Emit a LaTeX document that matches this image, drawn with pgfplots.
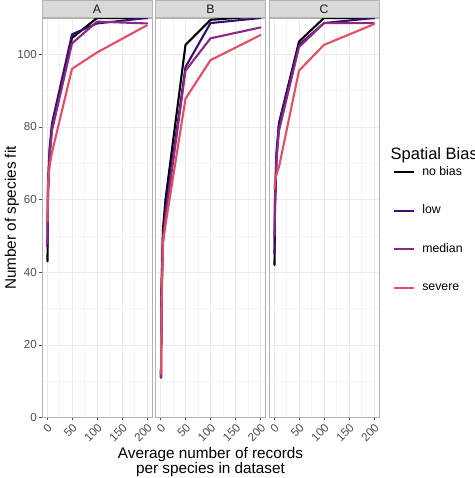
\documentclass[border=0pt]{standalone}
\usepackage{fontspec}
\setmainfont{Liberation Sans}
\usepackage{pgfplots}
\usepackage{pgfplotstable}
\pgfplotsset{compat=1.18}

% magma-like palette
\definecolor{nobias}{HTML}{000004}
\definecolor{lowc}{HTML}{3B0F70}
\definecolor{medc}{HTML}{8C2981}
\definecolor{sevc}{HTML}{E24E63}
\definecolor{gridmaj}{HTML}{EBEBEB}
\definecolor{gridmin}{HTML}{F4F4F4}
\definecolor{framec}{HTML}{B3B3B3}
\definecolor{stripfill}{HTML}{D9D9D9}
\definecolor{tickc}{HTML}{4D4D4D}

% x = average records per species; one column per bias level
\pgfplotstableread{
x   nobias low   median severe
1   43     47    48     54
2   62     64    62     64
5   72     74    72     69
10  80     81    79     73
50  104.5  105.5 103    96
100 110    108.5 109    100.5
200 110    110   108.5  108
}\panelA
\pgfplotstableread{
x   nobias low   median severe
1   11     11    11     12
2   35     34    33     30
5   52     50    49     48
10  60     57    55     53
50  102.6  96.5  95.5   87.8
100 109.5  108.6 104.4  98.4
200 110.5  110   107.4  105.3
}\panelB
\pgfplotstableread{
x   nobias low   median severe
1   42     45    50     63
2   58     60    60     65
5   72     73    71     67
10  81     81    79     69
50  103.5  102.6 102    95.5
100 110    108.6 108.6  102.6
200 110    110   108.6  108.3
}\panelC

\newcommand\tickfont{\fontsize{11.6}{11.6}\selectfont}
\newcommand\titlefont{\fontsize{15.3}{15}\selectfont}

\pgfplotsset{
  every axis title shift=0pt,
  curve/.style={line width=2.1pt, line join=round, line cap=round, mark=none},
  facet/.style={
    scale only axis, width=110pt, height=399.5pt,
    anchor=south west,
    xmin=-10, xmax=210, ymin=0, ymax=110,
    xtick={0,50,...,200}, minor xtick={25,75,125,175},
    ytick={0,20,...,100}, minor ytick={10,30,...,110},
    grid=both,
    major grid style={gridmaj, line width=0.7pt},
    minor grid style={gridmin, line width=0.35pt},
    axis line style={framec, line width=0.8pt},
    xtick pos=lower, ytick pos=left,
    tick align=outside, major tick length=3pt, minor tick length=0pt,
    major tick style={tickc, line width=0.6pt},
    /pgf/number format/assume math mode=true,
    xticklabel style={rotate=45, anchor=north east, font=\tickfont, text=tickc, inner sep=1.5pt},
    yticklabel style={font=\tickfont, text=tickc, inner sep=2pt},
    title style={at={(0.5,1)}, anchor=south, fill=stripfill, draw=framec,
      line width=0.8pt, minimum width=110pt, minimum height=17pt,
      inner sep=0pt, font=\fontsize{12.3}{12.3}\selectfont, text=black!90},
    clip=true,
  },
  noyaxis/.style={yticklabels={}, major y tick style={draw=none}},
}

\begin{document}
\begin{tikzpicture}
\begin{axis}[facet, at={(42pt,60.5pt)}, title={A}]
  \addplot[curve, nobias] table[x=x, y=nobias] {\panelA};
  \addplot[curve, lowc]   table[x=x, y=low]    {\panelA};
  \addplot[curve, medc]   table[x=x, y=median] {\panelA};
  \addplot[curve, sevc]   table[x=x, y=severe] {\panelA};
\end{axis}
\begin{axis}[facet, noyaxis, at={(155.5pt,60.5pt)}, title={B}]
  \addplot[curve, nobias] table[x=x, y=nobias] {\panelB};
  \addplot[curve, lowc]   table[x=x, y=low]    {\panelB};
  \addplot[curve, medc]   table[x=x, y=median] {\panelB};
  \addplot[curve, sevc]   table[x=x, y=severe] {\panelB};
\end{axis}
\begin{axis}[facet, noyaxis, at={(269pt,60.5pt)}, title={C},
    legend style={at={(1,1)}, anchor=north west, xshift=14pt, yshift=-148.5pt,
      draw=none, fill=none, inner sep=0pt, row sep=27.5pt, column sep=7pt,
      font=\fontsize{12.3}{12.3}\selectfont,
      nodes={inner sep=0pt, text height=8.5pt, text depth=2.5pt}},
    legend cell align=left,
    legend image code/.code={\draw[#1, line width=2.1pt, line cap=butt] (0pt,0pt) -- (20pt,0pt);}]
  \addplot[curve, nobias] table[x=x, y=nobias] {\panelC};
  \addlegendentry{no bias}
  \addplot[curve, lowc]   table[x=x, y=low]    {\panelC};
  \addlegendentry{low}
  \addplot[curve, medc]   table[x=x, y=median] {\panelC};
  \addlegendentry{median}
  \addplot[curve, sevc]   table[x=x, y=severe] {\panelC};
  \addlegendentry{severe}
\end{axis}
% axis titles and legend title
\node[rotate=90, font=\titlefont] at (12pt,260pt) {Number of species fit};
\node[align=center, font=\titlefont] at (210.5pt,15.5pt) {Average number of records\\per species in dataset};
\node[anchor=west, inner sep=0pt, font=\fontsize{16.5}{16.5}\selectfont] at (390.5pt,323pt) {Spatial Bias};
\pgfresetboundingbox
\path[use as bounding box] (0pt,0pt) rectangle (474pt,478pt);
\end{tikzpicture}
\end{document}
